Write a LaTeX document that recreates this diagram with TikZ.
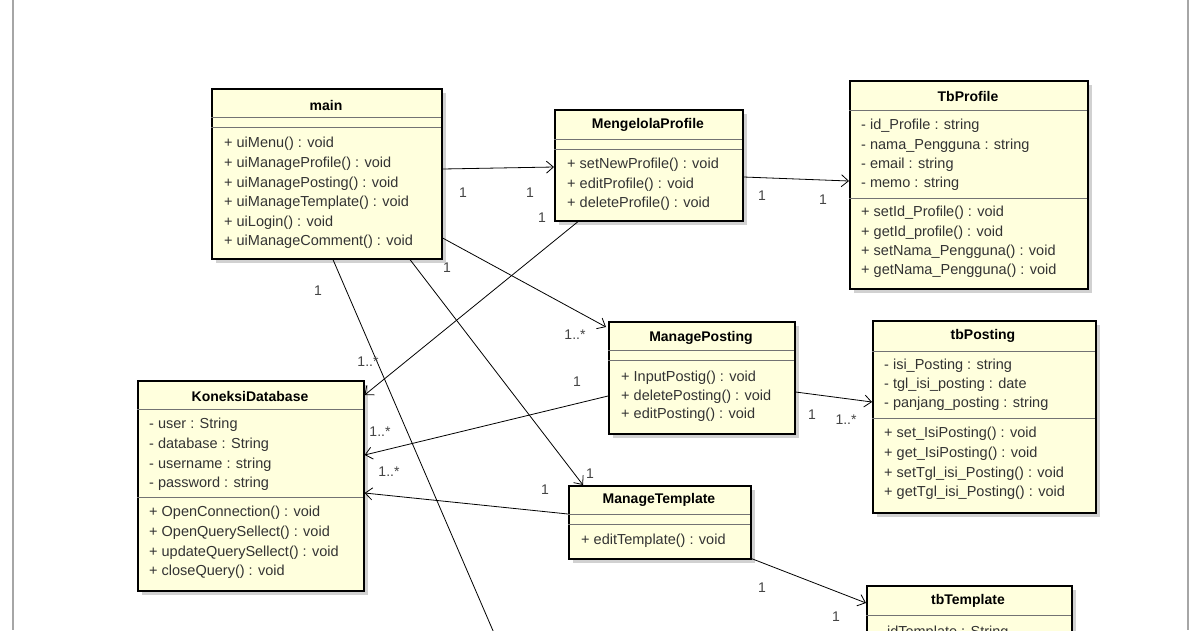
\documentclass[tikz,border=0pt]{standalone}
\usepackage{fontspec}
\setmainfont{Liberation Sans}
\usetikzlibrary{arrows.meta,calc,shadows}
\definecolor{boxfill}{HTML}{FFFFDD}
\definecolor{memb}{HTML}{333333}
\definecolor{lbl}{HTML}{444444}
\tikzset{
  box/.style={draw=black,line width=1.6pt,fill=boxfill,anchor=north west,inner sep=0pt,
    drop shadow={shadow xshift=4pt,shadow yshift=-4pt,fill=black!18,opacity=1}},
  sep/.style={draw=black!55,line width=0.9pt},
  ttl/.style={font=\fontsize{14}{16}\selectfont\bfseries,inner sep=0pt},
  mem/.style={font=\fontsize{14.5}{16}\selectfont,text=memb,anchor=west,inner sep=0pt},
  assoc/.style={draw=black,line width=0.8pt,-{Straight Barb[length=7pt,width=12pt]}},
  mult/.style={font=\fontsize{14}{16}\selectfont,text=lbl,inner sep=0pt},
}
\begin{document}
\begin{tikzpicture}[x=1pt,y=-1pt]
\useasboundingbox (0,0) rectangle (1200,630);
\fill[white] (0,0) rectangle (1200,630);
\draw[black!35,line width=1.2pt] (13,0) -- (13,630);
\draw[black!35,line width=1.2pt] (1188,0) -- (1188,630);
\begin{scope}
\clip (0,0) rectangle (1200,630);
% main
\node[box,minimum width=230pt,minimum height=170pt] (main) at (211,88) {};
\node[ttl] at (326,105) {main};
\draw[sep] (211,117) -- (441,117); \draw[sep] (211,127) -- (441,127);
\foreach \t [count=\i] in {+ uiMenu() : void,+ uiManageProfile() : void,+ uiManagePosting() : void,+ uiManageTemplate() : void,+ uiLogin() : void,+ uiManageComment() : void}
  \node[mem] at (224,{124.5+19.6*\i}) {\t};
% MengelolaProfile
\node[box,minimum width=188pt,minimum height=111pt] (mp) at (554,109) {};
\node[ttl] at (648,125) {MengelolaProfile};
\draw[sep] (554,139) -- (742,139); \draw[sep] (554,149) -- (742,149);
\foreach \t [count=\i] in {+ setNewProfile() : void,+ editProfile() : void,+ deleteProfile() : void}
  \node[mem] at (567,{145.5+19.5*\i}) {\t};
% TbProfile
\node[box,minimum width=238pt,minimum height=208pt] (tp) at (849,80) {};
\node[ttl] at (968,96) {TbProfile};
\draw[sep] (849,110) -- (1087,110); \draw[sep] (849,198) -- (1087,198);
\foreach \t [count=\i] in {- id\_Profile : string,- nama\_Pengguna : string,- email : string,- memo : string}
  \node[mem] at (861,{106.5+19.4*\i}) {\t};
\foreach \t [count=\i] in {+ setId\_Profile() : void,+ getId\_profile() : void,+ setNama\_Pengguna() : void,+ getNama\_Pengguna() : void}
  \node[mem] at (861,{193.5+19.4*\i}) {\t};
% ManagePosting
\node[box,minimum width=186pt,minimum height=112pt] (mpo) at (608,321) {};
\node[ttl] at (701,338) {ManagePosting};
\draw[sep] (608,350) -- (794,350); \draw[sep] (608,360) -- (794,360);
\foreach \t [count=\i] in {+ InputPostig() : void,+ deletePosting() : void,+ editPosting() : void}
  \node[mem] at (621,{359+18.7*\i}) {\t};
% tbPosting
\node[box,minimum width=223pt,minimum height=192pt] (tpo) at (872,320) {};
\node[ttl] at (983,336) {tbPosting};
\draw[sep] (872,351) -- (1095,351); \draw[sep] (872,418) -- (1095,418);
\foreach \t [count=\i] in {- isi\_Posting : string,- tgl\_isi\_posting : date,- panjang\_posting : string}
  \node[mem] at (884,{346.5+19.2*\i}) {\t};
\foreach \t [count=\i] in {+ set\_IsiPosting() : void,+ get\_IsiPosting() : void,+ setTgl\_isi\_Posting() : void,+ getTgl\_isi\_Posting() : void}
  \node[mem] at (884,{414.5+19.6*\i}) {\t};
% KoneksiDatabase
\node[box,minimum width=226pt,minimum height=210pt] (kd) at (137,380) {};
\node[ttl] at (250,396) {KoneksiDatabase};
\draw[sep] (137,409) -- (363,409); \draw[sep] (137,497) -- (363,497);
\foreach \t [count=\i] in {- user : String,- database : String,- username : string,- password : string}
  \node[mem] at (149,{405.5+19.6*\i}) {\t};
\foreach \t [count=\i] in {+ OpenConnection() : void,+ OpenQuerySellect() : void,+ updateQuerySellect() : void,+ closeQuery() : void}
  \node[mem] at (149,{493.5+19.6*\i}) {\t};
% ManageTemplate
\node[box,minimum width=182pt,minimum height=73pt] (mt) at (568,485) {};
\node[ttl] at (659,500) {ManageTemplate};
\draw[sep] (568,514) -- (750,514); \draw[sep] (568,524) -- (750,524);
\node[mem] at (581,541) {+ editTemplate() : void};
% tbTemplate
\node[box,minimum width=205pt,minimum height=80pt] (tt) at (866,585) {};
\node[ttl] at (968,601) {tbTemplate};
\draw[sep] (866,615) -- (1071,615);
\node[mem] at (878,633) {- idTemplate : String};
% connectors
\coordinate (offb) at (497,640);
\draw[assoc] ([yshift=-81pt]main.north east) -- ([yshift=-58pt]mp.north west);
\draw[assoc] ([yshift=-68pt]mp.north east) -- ([yshift=-101pt]tp.north west);
\draw[assoc] ([yshift=-150pt]main.north east) -- ([xshift=-2pt,yshift=-6pt]mpo.north west);
\draw[assoc] ([xshift=199pt]main.south west) -- ([xshift=15pt]mt.north west);
\draw[draw=black,line width=0.8pt] ([xshift=122pt]main.south west) -- (offb);
\draw[assoc] ([xshift=24pt]mp.south west) -- ([yshift=-15pt]kd.north east);
\draw[assoc] ([yshift=-75pt]mpo.north west) -- ([yshift=-75pt]kd.north east);
\draw[assoc] ([yshift=-29pt]mt.north west) -- ([yshift=-113pt]kd.north east);
\draw[assoc] ([yshift=-71pt]mpo.north east) -- ([yshift=-82pt]tpo.north west);
\draw[assoc] ([xshift=182pt,yshift=-73pt]mt.north west) -- ([yshift=-18pt]tt.north west);
\end{scope}
% multiplicities
\node[mult] at (463,193) {1};
\node[mult] at (530,193) {1};
\node[mult] at (762,196) {1};
\node[mult] at (823,200) {1};
\node[mult] at (542,218) {1};
\node[mult] at (447,268) {1};
\node[mult] at (318,291) {1};
\node[mult] at (575,335) {1..*};
\node[mult] at (368,362) {1..*};
\node[mult] at (577,382) {1};
\node[mult] at (380,432) {1..*};
\node[mult] at (389,472) {1..*};
\node[mult] at (545,490) {1};
\node[mult] at (590,474) {1};
\node[mult] at (812,415) {1};
\node[mult] at (846,420) {1..*};
\node[mult] at (762,588) {1};
\node[mult] at (836,617) {1};
\end{tikzpicture}
\end{document}
